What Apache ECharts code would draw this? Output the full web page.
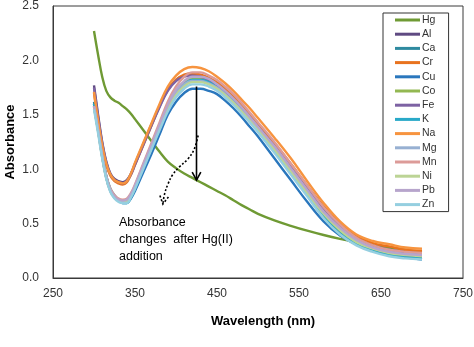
<!DOCTYPE html>
<html>
<head>
<meta charset="utf-8">
<script src="https://cdn.jsdelivr.net/npm/echarts@6/dist/echarts.min.js"></script>
<style>
  html, body { margin: 0; padding: 0; background: #fff; }
  #chart { width: 474px; height: 347px; }
</style>
</head>
<body>
<div id="chart"></div>
<script>
// Wavelength grid (nm) shared by every spectrum
const wavelengths = [300,305,310,315,320,325,330,335,340,345,350,360,370,380,390,400,410,420,430,440,450,460,470,480,490,500,520,540,560,580,600,620,640,660,680,700];

// Absorbance of the probe with each metal ion
const hg = [2.27,2.05,1.85,1.72,1.66,1.63,1.61,1.58,1.55,1.51,1.46,1.36,1.26,1.16,1.07,1.01,0.96,0.92,0.88,0.84,0.80,0.76,0.715,0.67,0.63,0.59,0.53,0.48,0.435,0.395,0.36,0.33,0.30,0.28,0.26,0.24];
const al = [1.77,1.50,1.25,1.07,0.96,0.91,0.89,0.88,0.90,0.96,1.05,1.23,1.41,1.58,1.73,1.82,1.86,1.87,1.86,1.83,1.78,1.72,1.65,1.57,1.49,1.40,1.22,1.03,0.83,0.64,0.48,0.37,0.30,0.26,0.24,0.23];
const ca = [1.62,1.39,1.14,0.94,0.82,0.76,0.72,0.70,0.70,0.75,0.83,1.02,1.20,1.39,1.57,1.71,1.79,1.83,1.83,1.81,1.76,1.70,1.63,1.55,1.46,1.37,1.18,0.98,0.77,0.57,0.42,0.32,0.26,0.22,0.20,0.19];
const cr = [1.70,1.44,1.21,1.04,0.94,0.89,0.87,0.86,0.88,0.95,1.04,1.22,1.40,1.58,1.73,1.82,1.87,1.88,1.87,1.84,1.80,1.74,1.67,1.59,1.51,1.42,1.24,1.05,0.85,0.66,0.50,0.39,0.32,0.29,0.26,0.25];
const cu = [1.60,1.38,1.12,0.92,0.80,0.74,0.71,0.69,0.69,0.73,0.80,0.97,1.14,1.32,1.50,1.62,1.70,1.74,1.74,1.72,1.69,1.63,1.56,1.48,1.39,1.30,1.10,0.90,0.70,0.52,0.39,0.31,0.25,0.21,0.19,0.17];
const co = [1.58,1.36,1.12,0.93,0.81,0.75,0.72,0.70,0.71,0.76,0.84,1.03,1.21,1.40,1.58,1.72,1.80,1.84,1.84,1.82,1.77,1.71,1.64,1.56,1.47,1.38,1.19,0.99,0.78,0.58,0.43,0.33,0.27,0.24,0.22,0.21];
const fe = [1.75,1.48,1.24,1.06,0.95,0.90,0.88,0.87,0.89,0.95,1.04,1.22,1.40,1.57,1.72,1.81,1.85,1.86,1.85,1.82,1.77,1.71,1.64,1.56,1.48,1.39,1.21,1.02,0.82,0.63,0.47,0.36,0.29,0.25,0.23,0.22];
const k  = [1.60,1.37,1.13,0.93,0.81,0.75,0.71,0.69,0.69,0.74,0.82,1.01,1.19,1.38,1.56,1.70,1.78,1.82,1.82,1.80,1.75,1.69,1.62,1.54,1.45,1.36,1.17,0.97,0.76,0.56,0.41,0.31,0.25,0.21,0.19,0.18];
const na = [1.71,1.45,1.22,1.05,0.95,0.90,0.88,0.87,0.89,0.96,1.06,1.24,1.42,1.60,1.76,1.86,1.92,1.94,1.93,1.90,1.85,1.79,1.72,1.64,1.56,1.47,1.29,1.10,0.89,0.69,0.52,0.40,0.34,0.31,0.28,0.27];
const mg = [1.57,1.35,1.11,0.92,0.80,0.74,0.71,0.70,0.71,0.76,0.84,1.02,1.20,1.39,1.56,1.70,1.78,1.81,1.81,1.79,1.75,1.69,1.62,1.54,1.46,1.37,1.19,0.99,0.79,0.60,0.45,0.34,0.28,0.24,0.22,0.21];
const mn = [1.58,1.36,1.12,0.93,0.82,0.76,0.73,0.72,0.73,0.78,0.86,1.05,1.24,1.43,1.62,1.76,1.85,1.89,1.89,1.86,1.82,1.76,1.69,1.61,1.52,1.43,1.25,1.05,0.85,0.65,0.49,0.37,0.30,0.26,0.24,0.23];
const ni = [1.57,1.35,1.11,0.92,0.80,0.74,0.71,0.70,0.71,0.76,0.84,1.02,1.20,1.38,1.55,1.68,1.76,1.80,1.80,1.78,1.74,1.68,1.61,1.53,1.45,1.36,1.18,0.98,0.78,0.59,0.44,0.33,0.27,0.23,0.21,0.20];
const pb = [1.58,1.36,1.12,0.93,0.81,0.75,0.72,0.71,0.72,0.77,0.85,1.04,1.22,1.41,1.59,1.73,1.81,1.85,1.85,1.83,1.78,1.72,1.65,1.57,1.48,1.39,1.21,1.01,0.81,0.61,0.46,0.35,0.28,0.24,0.22,0.21];
const zn = [1.55,1.33,1.10,0.91,0.79,0.73,0.70,0.69,0.69,0.74,0.82,1.00,1.18,1.36,1.53,1.66,1.74,1.78,1.78,1.76,1.72,1.66,1.59,1.51,1.43,1.34,1.15,0.95,0.75,0.55,0.40,0.30,0.24,0.20,0.18,0.17];

const seriesNames = ['Hg','Al','Ca','Cr','Cu','Co','Fe','K','Na','Mg','Mn','Ni','Pb','Zn'];
const seriesValues = [hg, al, ca, cr, cu, co, fe, k, na, mg, mn, ni, pb, zn];
const seriesColors = ['#6f9a34','#5f4a82','#2e8aa0','#e8731f','#2a77bd','#93b852','#7d62a3','#29a9c8','#f7943f','#97b0d2','#dc9b98','#bcd495','#b7a5cc','#95cfe0'];

// x-axis tick labels (every 100 nm, starting at 250)
const xTickLabels = [250, 350, 450, 550, 650, 750];

// Annotation arrows, in (wavelength, absorbance) units
const solidArrow = [[425, 1.76], [425, 0.90]];
const dottedArrow = [[427, 1.31], [422, 1.18], [414, 1.09], [404, 1.02], [396, 0.95], [390, 0.86], [386, 0.77], [384, 0.68]];

const chart = echarts.init(document.getElementById('chart'), null, { renderer: 'canvas' });

function toPairs(vals) {
  return wavelengths.map((w, i) => [w, vals[i]]);
}

const lineSeries = seriesNames.map((name, i) => ({
  name: name,
  type: 'line',
  data: toPairs(seriesValues[i]),
  smooth: 0.4,
  showSymbol: false,
  symbol: 'none',
  lineStyle: { width: 2.4, color: seriesColors[i] },
  itemStyle: { color: seriesColors[i] },
  z: 2 + i
}));

// Arrows drawn through the cartesian coordinate system
function arrowHead(p, q, len, style) {
  const dx = q[0] - p[0], dy = q[1] - p[1];
  const ang = Math.atan2(dy, dx);
  const a1 = ang + Math.PI - 0.5, a2 = ang + Math.PI + 0.5;
  return {
    type: 'polyline',
    shape: { points: [
      [q[0] + len * Math.cos(a1), q[1] + len * Math.sin(a1)],
      q,
      [q[0] + len * Math.cos(a2), q[1] + len * Math.sin(a2)]
    ] },
    style: style
  };
}

const arrowSeries = {
  type: 'custom',
  name: 'arrows',
  data: [[0]],
  silent: true,
  z: 30,
  renderItem: function (params, api) {
    const sp = solidArrow.map(p => api.coord(p));
    const dp = dottedArrow.map(p => api.coord(p));
    const solidStyle = { stroke: '#000', lineWidth: 1.6, fill: null };
    const dotStyle = { stroke: '#000', lineWidth: 1.6, fill: null, lineDash: [2, 2] };
    return {
      type: 'group',
      children: [
        { type: 'polyline', shape: { points: sp }, style: solidStyle },
        arrowHead(sp[sp.length - 2], sp[sp.length - 1], 9, solidStyle),
        { type: 'polyline', shape: { points: dp, smooth: 0.4 }, style: dotStyle },
        arrowHead(dp[dp.length - 2], dp[dp.length - 1], 9, dotStyle)
      ]
    };
  }
};

const option = {
  backgroundColor: '#ffffff',
  animation: false,
  grid: {
    left: 53, right: 11, top: 6, bottom: 69,
    containLabel: false,
    outerBoundsMode: 'none',
    show: true, borderColor: '#3a3a3a', borderWidth: 1, backgroundColor: 'transparent'
  },
  legend: {
    orient: 'vertical',
    left: 383, top: 13,
    data: seriesNames,
    icon: 'rect',
    itemWidth: 25, itemHeight: 3,
    itemGap: 2.2,
    padding: [1, 12, 1, 12],
    borderColor: '#333', borderWidth: 1,
    backgroundColor: '#fff',
    textStyle: { fontSize: 10.5, color: '#333', fontFamily: 'Liberation Sans', lineHeight: 12, padding: [0, 0, 0, -3] },
    selectedMode: false
  },
  xAxis: {
    type: 'value',
    min: 250, max: 750, interval: 50,
    name: 'Wavelength (nm)',
    nameLocation: 'middle',
    nameGap: 37,
    nameMoveOverlap: false,
    nameTextStyle: { fontSize: 13, fontWeight: 'bold', color: '#000', fontFamily: 'Liberation Sans', padding: [0, 0, 0, 10] },
    axisLine: { show: true, lineStyle: { color: '#3a3a3a', width: 1 } },
    axisTick: { show: false },
    splitLine: { show: false },
    axisLabel: {
      margin: 10, fontSize: 12, color: '#333', fontFamily: 'Liberation Sans',
      formatter: function (v) { return xTickLabels.indexOf(v) >= 0 ? String(v) : ''; }
    }
  },
  yAxis: {
    type: 'value',
    min: 0, max: 2.5, interval: 0.5,
    name: 'Absorbance',
    nameLocation: 'middle',
    nameGap: 36,
    nameMoveOverlap: false,
    nameTextStyle: { fontSize: 13, fontWeight: 'bold', color: '#000', fontFamily: 'Liberation Sans' },
    axisLine: { show: true, lineStyle: { color: '#3a3a3a', width: 1 } },
    axisTick: { show: false },
    splitLine: { show: false },
    axisLabel: {
      margin: 14, fontSize: 12, color: '#333', fontFamily: 'Liberation Sans',
      formatter: function (v) { return v.toFixed(1); }
    }
  },
  graphic: [{
    type: 'text',
    left: 119, top: 214,
    silent: true,
    style: {
      text: 'Absorbance\nchanges  after Hg(II)\naddition',
      fontSize: 12.5, lineHeight: 17,
      fontFamily: 'Liberation Sans',
      fill: '#000'
    }
  }],
  series: lineSeries.concat([arrowSeries])
};

chart.setOption(option);
</script>
</body>
</html>
